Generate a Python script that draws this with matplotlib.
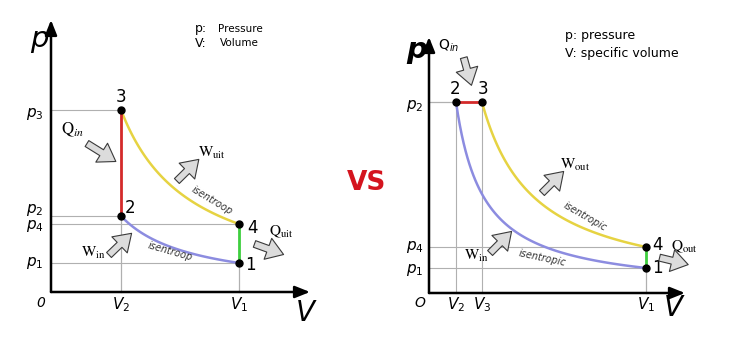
import numpy as np
import matplotlib
matplotlib.use('Agg')
import matplotlib.pyplot as plt
from matplotlib.patches import FancyArrowPatch

# Otto cycle (left) and Diesel cycle (right), state points 1..4
otto_labels = ['1', '2', '3', '4']
otto_V = [2.69, 1.0, 1.0, 2.69]
otto_p = [1.0, 2.62, 6.28, 2.34]
otto_vticks = ['$V_1$', '$V_2$']
otto_pticks = ['$p_1$', '$p_2$', '$p_3$', '$p_4$']

diesel_labels = ['1', '2', '3', '4']
diesel_V = [8.04, 1.0, 1.96, 8.04]
diesel_p = [1.0, 7.64, 7.64, 1.84]
diesel_vticks = ['$V_1$', '$V_2$', '$V_3$']
diesel_pticks = ['$p_1$', '$p_2$', '$p_4$']

RED = '#d42a2a'
YELLOW = '#e6d342'
BLUE = '#8c8ce0'
GREEN = '#3ecf3e'
GUIDE = '#b0b0b0'

fig = plt.figure(figsize=(7.45, 3.42), dpi=100)


def make_panel(rect, origin_px, scale_px, span_px):
    # axes whose data units map linearly to pixels with the origin at origin_px
    ax = fig.add_axes(rect)
    x0, x1 = span_px
    ox, oy = origin_px
    sx, sy = scale_px
    ax.set_xlim((x0 - ox) / sx, (x1 - ox) / sx)
    ax.set_ylim((oy - 342) / sy, oy / sy)
    ax.axis('off')
    return ax


def axis_arrows(ax, xmax, ymax):
    style = '-|>,head_length=0.45,head_width=0.18'
    for end in [(xmax, 0), (0, ymax)]:
        ax.annotate('', xy=end, xytext=(0, 0),
                    arrowprops=dict(arrowstyle=style, lw=1.8, color='k',
                                    shrinkA=0, shrinkB=0, mutation_scale=20))


def block_arrow(ax, start, end):
    ax.add_patch(FancyArrowPatch(
        start, end,
        arrowstyle='simple,head_length=0.6,head_width=0.8,tail_width=0.25',
        mutation_scale=20, fc='#dcdcdc', ec='#3a3a3a', lw=0.8, zorder=4))


def isentrope(Va, pa, Vb, pb, n=100):
    k = np.log(pa / pb) / np.log(Vb / Va)
    V = np.linspace(Va, Vb, n)
    return V, pa * (Va / V) ** k


def guides(ax, V, p):
    for v, q in zip(V, p):
        ax.plot([0, v], [q, q], color=GUIDE, lw=0.8, zorder=1)
        ax.plot([v, v], [0, q], color=GUIDE, lw=0.8, zorder=1)


def point_labels(ax, V, p, labels, offsets):
    ax.plot(V, p, 'o', color='k', ms=5, zorder=5)
    for v, q, lab, off in zip(V, p, labels, offsets):
        ax.annotate(lab, (v, q), xytext=off, textcoords='offset points',
                    ha='center', va='center', fontsize=12)


# ---------------- Otto ----------------
ax = make_panel([0, 0, 0.5, 1], (51, 292), (70, 29), (0, 372.5))
axis_arrows(ax, 3.7, 9.38)
guides(ax, otto_V, otto_p)

V1, V2 = otto_V[0], otto_V[1]
p1, p2, p3, p4 = otto_p
Vc, pc = isentrope(V2, p2, V1, p1)
ax.plot(Vc, pc, color=BLUE, lw=1.8, zorder=2)
Ve, pe = isentrope(V2, p3, V1, p4)
ax.plot(Ve, pe, color=YELLOW, lw=1.8, zorder=2)
ax.plot([V2, V2], [p2, p3], color=RED, lw=2, zorder=3)
ax.plot([V1, V1], [p1, p4], color=GREEN, lw=2, zorder=3)
point_labels(ax, otto_V, otto_p, otto_labels,
             [(8, -1.5), (6.5, 6), (0, 9.5), (9.5, -3)])

for v, lab in zip([V1, V2], otto_vticks):
    ax.text(v, -0.45, lab, ha='center', va='center', fontsize=11)
for q, lab, dy in zip(otto_p, otto_pticks, [0, 0.2, -0.15, -0.05]):
    ax.text(-0.23, q + dy, lab, ha='center', va='center', fontsize=11)
ax.text(-0.14, -0.38, '0', ha='center', va='center', fontsize=10, style='italic')
ax.text(-0.16, 8.72, 'p', ha='center', va='center', fontsize=21, style='italic')
ax.text(3.63, -0.72, 'V', ha='center', va='center', fontsize=20, style='italic')

ax.text(2.06, 9.07, 'p:', ha='left', va='center', fontsize=9)
ax.text(2.39, 9.07, 'Pressure', ha='left', va='center', fontsize=7.5)
ax.text(2.06, 8.57, 'V:', ha='left', va='center', fontsize=9)
ax.text(2.42, 8.59, 'Volume', ha='left', va='center', fontsize=7.5)

ax.text(2.30, 3.14, 'isentroop', ha='center', va='center', fontsize=7,
        style='italic', rotation=-31, color='#333333')
ax.text(1.70, 1.41, 'isentroop', ha='center', va='center', fontsize=7,
        style='italic', rotation=-16, color='#333333')

block_arrow(ax, (0.48, 5.17), (0.96, 4.45))
ax.text(0.31, 5.59, r'$\mathrm{Q}_{in}$', ha='center', va='center',
        fontsize=12, math_fontfamily='stix')
block_arrow(ax, (1.77, 3.76), (2.14, 4.64))
ax.text(2.30, 4.80, r'$\mathrm{W}_{\mathrm{uit}}$', ha='center', va='center',
        fontsize=11, math_fontfamily='stix')
block_arrow(ax, (0.80, 1.21), (1.18, 2.09))
ax.text(0.60, 1.34, r'$\mathrm{W}_{\mathrm{in}}$', ha='center', va='center',
        fontsize=11, math_fontfamily='stix')
block_arrow(ax, (2.87, 1.69), (3.36, 1.26))
ax.text(3.29, 2.07, r'$\mathrm{Q}_{\mathrm{uit}}$', ha='center', va='center',
        fontsize=11, math_fontfamily='stix')

# ---------------- Diesel ----------------
ax = make_panel([0.5, 0, 0.5, 1], (429, 293), (27, 25), (372.5, 745))
axis_arrows(ax, 9.48, 10.24)
guides(ax, diesel_V, diesel_p)

V1, V2, V3 = diesel_V[0], diesel_V[1], diesel_V[2]
p1, p2, p3, p4 = diesel_p
Vc, pc = isentrope(V2, p2, V1, p1)
ax.plot(Vc, pc, color=BLUE, lw=1.8, zorder=2)
Ve, pe = isentrope(V3, p3, V1, p4)
ax.plot(Ve, pe, color=YELLOW, lw=1.8, zorder=2)
ax.plot([V2, V3], [p2, p3], color=RED, lw=2, zorder=3)
ax.plot([V1, V1], [p1, p4], color=GREEN, lw=2, zorder=3)
point_labels(ax, diesel_V, diesel_p, diesel_labels,
             [(8, 0), (-1, 9), (1, 9), (8, 1.5)])

for v, lab in zip([V1, V2, V3], diesel_vticks):
    ax.text(v, -0.48, lab, ha='center', va='center', fontsize=11)
for q, lab, dy in zip([p1, p2, p4], diesel_pticks, [-0.08, -0.15, 0]):
    ax.text(-0.52, q + dy, lab, ha='center', va='center', fontsize=11)
ax.text(-0.33, -0.4, 'O', ha='center', va='center', fontsize=10, style='italic')
ax.text(-0.44, 9.7, 'p', ha='center', va='center', fontsize=21,
        style='italic', weight='bold')
ax.text(9.04, -0.62, 'V', ha='center', va='center', fontsize=20, style='italic')

ax.text(5.04, 10.28, 'p: pressure', ha='left', va='center', fontsize=9)
ax.text(5.04, 9.60, 'V: specific volume', ha='left', va='center', fontsize=9)

ax.text(5.78, 3.04, 'isentropic', ha='center', va='center', fontsize=7,
        style='italic', rotation=-30, color='#333333')
ax.text(4.19, 1.40, 'isentropic', ha='center', va='center', fontsize=7,
        style='italic', rotation=-12, color='#333333')

block_arrow(ax, (1.26, 9.52), (1.60, 8.20))
ax.text(0.74, 9.88, r'$\mathrm{Q}_{in}$', ha='center', va='center', fontsize=10)
block_arrow(ax, (4.11, 3.92), (5.06, 4.94))
ax.text(5.41, 5.12, r'$\mathrm{W}_{\mathrm{out}}$', ha='center', va='center',
        fontsize=11, math_fontfamily='stix')
block_arrow(ax, (2.19, 1.52), (3.13, 2.54))
ax.text(1.74, 1.48, r'$\mathrm{W}_{\mathrm{in}}$', ha='center', va='center',
        fontsize=11, math_fontfamily='stix')
block_arrow(ax, (8.44, 1.44), (9.70, 1.11))
ax.text(9.48, 1.84, r'$\mathrm{Q}_{\mathrm{out}}$', ha='center', va='center',
        fontsize=11, math_fontfamily='stix')

fig.text(0.4926, 0.465, 'VS', ha='center', va='center', fontsize=19,
         weight='bold', color='#d4141e')

fig.savefig('out.png', dpi=100)
